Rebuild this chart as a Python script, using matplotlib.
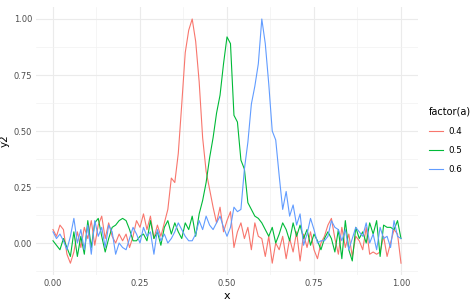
import numpy as np
import matplotlib
matplotlib.use("Agg")
import matplotlib.pyplot as plt
from matplotlib.ticker import MultipleLocator

x = [round(i * 0.01, 2) for i in range(101)]

y_04 = [0.06, 0.03, 0.08, 0.06, -0.05, -0.09, -0.04, 0.05, -0.02, 0.07,
        0.02, 0.10, -0.01, 0.08, 0.12, 0.02, 0.09, 0.03, 0.00, 0.04,
        0.01, 0.04, -0.02, 0.03, 0.10, 0.07, 0.13, 0.06, 0.12, 0.02,
        0.08, 0.03, 0.09, 0.15, 0.29, 0.27, 0.40, 0.62, 0.85, 0.95,
        1.00, 0.90, 0.72, 0.47, 0.32, 0.24, 0.16, 0.09, 0.16, 0.05,
        0.10, 0.14, -0.02, 0.05, 0.09, 0.02, 0.07, -0.03, 0.09, 0.03,
        0.02, -0.06, 0.03, -0.09, 0.00, -0.03, 0.03, -0.07, 0.02, -0.04,
        0.05, -0.08, 0.04, -0.02, 0.05, -0.03, -0.07, 0.00, 0.03, 0.08,
        0.11, 0.02, -0.05, 0.07, -0.02, 0.04, -0.06, 0.03, 0.01, -0.03,
        0.07, -0.05, -0.04, -0.05, -0.04, 0.03, -0.06, 0.00, 0.06, 0.04,
        -0.09]

y_05 = [0.01, -0.01, -0.03, 0.02, -0.02, -0.06, 0.05, -0.06, 0.03, -0.05,
        0.10, -0.02, 0.09, 0.11, 0.03, -0.04, 0.02, 0.07, 0.08, 0.10,
        0.11, 0.10, 0.06, 0.01, 0.01, 0.03, 0.04, 0.01, 0.10, 0.02,
        0.05, -0.01, 0.07, 0.10, 0.04, 0.09, 0.05, 0.02, 0.09, 0.06,
        0.12, 0.03, 0.13, 0.19, 0.27, 0.38, 0.47, 0.58, 0.66, 0.80,
        0.92, 0.89, 0.57, 0.54, 0.37, 0.33, 0.18, 0.15, 0.12, 0.11,
        0.09, 0.06, 0.03, 0.07, 0.00, 0.04, 0.09, 0.06, 0.01, 0.09,
        0.03, 0.08, 0.02, 0.06, -0.01, 0.04, 0.01, -0.03, 0.02, 0.05,
        0.02, -0.04, 0.06, -0.07, 0.10, -0.03, -0.08, 0.07, 0.02, 0.05,
        0.00, 0.09, 0.04, 0.10, -0.06, 0.08, 0.07, 0.07, 0.06, 0.10,
        0.02]

y_06 = [0.05, 0.02, 0.04, 0.01, -0.03, 0.03, 0.11, 0.00, 0.06, -0.03,
        0.08, -0.05, 0.10, 0.03, 0.07, -0.02, 0.08, 0.05, -0.05, 0.00,
        -0.02, -0.03, 0.02, 0.07, 0.04, 0.00, 0.07, 0.03, 0.05, -0.05,
        0.06, 0.01, 0.04, 0.00, 0.02, 0.05, 0.09, 0.06, 0.03, 0.01,
        0.01, 0.04, 0.10, 0.06, 0.12, 0.08, 0.06, 0.09, 0.12, 0.07,
        0.03, 0.07, 0.16, 0.14, 0.15, 0.33, 0.45, 0.62, 0.70, 0.80,
        1.00, 0.89, 0.71, 0.50, 0.46, 0.30, 0.15, 0.23, 0.12, 0.17,
        0.08, 0.13, -0.01, 0.04, 0.11, 0.06, 0.00, 0.01, 0.01, 0.03,
        0.10, 0.07, 0.06, 0.01, 0.06, -0.03, 0.02, 0.07, 0.05, 0.03,
        0.09, 0.00, 0.04, -0.03, 0.07, 0.02, 0.03, -0.02, 0.10, 0.03,
        0.02]

labels = ["0.4", "0.5", "0.6"]
colors = ["#F8766D", "#00BA38", "#619CFF"]
series = [y_04, y_05, y_06]
tick_vals = [0, 0.25, 0.5, 0.75, 1.0]
tick_labels = ["0.00", "0.25", "0.50", "0.75", "1.00"]

fig = plt.figure(figsize=(4.74, 3.03), dpi=100)
ax = fig.add_axes([0.0751, 0.0911, 0.8076, 0.8865])

for ys, lab, c in zip(series, labels, colors):
    ax.plot(x, ys, color=c, lw=0.8, label=lab)

ymin = min(min(s) for s in series)
ymax = max(max(s) for s in series)
yr = ymax - ymin
ax.set_xlim(-0.05, 1.05)
ax.set_ylim(ymin - 0.05 * yr, ymax + 0.05 * yr)

ax.xaxis.set_minor_locator(MultipleLocator(0.125))
ax.yaxis.set_minor_locator(MultipleLocator(0.125))
ax.set_xticks(tick_vals)
ax.set_xticklabels(tick_labels)
ax.set_yticks(tick_vals)
ax.set_yticklabels(tick_labels)
ax.grid(which="major", color="#EBEBEB", lw=0.8)
ax.grid(which="minor", color="#F2F2F2", lw=0.5)
ax.set_axisbelow(True)
for s in ax.spines.values():
    s.set_visible(False)
ax.tick_params(which="both", length=0, labelsize=6, labelcolor="#4D4D4D", pad=2.5)
ax.set_xlabel("x", fontsize=8, color="black", labelpad=2)
ax.set_ylabel("y2", fontsize=7.5, color="black")
ax.yaxis.set_label_coords(-0.068, 0.5)

leg = fig.legend(loc="upper left", bbox_to_anchor=(0.905, 0.648), frameon=False,
                 title="factor(a)", fontsize=6.3, title_fontsize=7,
                 handlelength=1.6, labelspacing=1.15, handletextpad=0.6,
                 borderpad=0, borderaxespad=0)
leg._legend_box.align = "left"

fig.savefig("out.png", dpi=100, facecolor="white")
